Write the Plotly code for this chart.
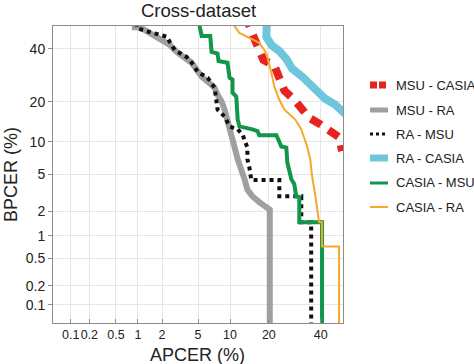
import plotly.graph_objects as go
from statistics import NormalDist

_nd = NormalDist()


def probit(vals):
    return [_nd.inv_cdf(v / 100.0) for v in vals]


tick_pct = [0.1, 0.2, 0.5, 1, 2, 5, 10, 20, 40]
tick_labels = ["0.1", "0.2", "0.5", "1", "2", "5", "10", "20", "40"]

# MSU - CASIA
msu_casia_apcer = [14.4, 14.4, 15.5, 16.9, 18.3, 21.8, 23.5, 25.3, 29.0, 31.8, 35.0, 39.3, 45.1, 48.2, 49.6]
msu_casia_bpcer = [55, 50, 45.3, 39.5, 35.4, 33.0, 27.6, 23.7, 20.7, 17.7, 15.5, 14.0, 12.1, 10.9, 8.3]

# MSU - RA
msu_ra_apcer = [0.91, 0.91, 1.06, 1.42, 1.73, 2.04, 2.47, 2.96, 3.45, 4.3, 4.84, 5.44, 6.23, 7.26, 7.73,
                8.42, 8.95, 9.5, 9.9, 10.3, 10.9, 11.6, 12.5, 13.2, 13.9, 15.2, 17.1, 19.5, 20.3, 20.3]
msu_ra_bpcer = [55, 49.5, 49.5, 46.9, 44.8, 43.9, 41.7, 38.7, 36.6, 34.2, 31.4, 28.7, 26.9, 24.7, 22.3,
                20.1, 17.7, 15.0, 13.3, 11.1, 9.1, 7.0, 5.6, 4.47, 3.5, 2.96, 2.55, 2.2, 2.1, 0.01]

# RA - MSU
ra_msu_apcer = [0.95, 0.97, 1.42, 1.88, 2.28, 2.47, 2.81, 3.8, 4.3, 4.96, 6.23, 7.26, 7.57, 7.73, 8.95,
                9.9, 11.6, 12.7, 13.9, 13.9, 14.4, 14.9, 23.5, 23.5, 31.8, 31.8, 35.9, 35.9]
ra_msu_bpcer = [55, 49, 47.3, 46, 45.3, 43, 39.5, 36.6, 34.2, 30.6, 28.3, 24.7, 20.7, 17.7, 15.8,
                13.3, 12.6, 11.5, 8.9, 7.0, 5.85, 4.4, 4.4, 2.96, 2.96, 1.48, 1.48, 0.01]

# RA - CASIA
ra_casia_apcer = [19.5, 19.5, 19.2, 20.8, 23.5, 26.0, 28.2, 32.2, 35.5, 38.5, 42.0, 46.4, 49.6, 52]
ra_casia_bpcer = [55, 50, 45.3, 41.7, 39.1, 35.8, 31.8, 28.7, 25.8, 23.0, 21.0, 19.2, 17.4, 16]

# CASIA - MSU
casia_msu_apcer = [5.19, 5.19, 5.44, 6.6, 6.8, 7.73, 7.9, 9.5, 9.9, 10.5, 10.5, 11.3, 11.6, 12.0, 15.2,
                   16.6, 17.1, 22.5, 24.2, 26.0, 26.4, 27.9, 29.0, 29.8, 31.0, 31.0, 40.6, 40.6]
casia_msu_bpcer = [55, 50, 45.6, 45.6, 38.7, 38.0, 34.9, 34.2, 28.3, 27.6, 23.0, 21.7, 15.0, 13.3, 12.6,
                   12.2, 11.3, 11.3, 9.1, 8.9, 6.5, 4.47, 4.0, 2.96, 2.9, 1.48, 1.48, 0.01]

# CASIA - RA
casia_ra_apcer = [10.5, 10.9, 12.0, 14.4, 17.1, 19.2, 20.2, 20.8, 21.8, 23.5, 25.3, 29.4, 31.8, 33.4, 34.2,
                  35.5, 36.3, 37.6, 38.5, 39.3, 40.6, 40.6, 48.2, 48.2]
casia_ra_bpcer = [55, 50, 46.9, 44.8, 42.6, 38.3, 33.4, 30.2, 25.1, 20.7, 17.7, 15.0, 12.6, 10.4, 9.1,
                  7.0, 4.8, 3.1, 2.12, 1.48, 1.48, 0.73, 0.73, 0.01]

series = [
    ("MSU - CASIA", msu_casia_apcer, msu_casia_bpcer, dict(color="#e8231f", width=8, dash="12px,9px")),
    ("MSU - RA", msu_ra_apcer, msu_ra_bpcer, dict(color="#a0a0a0", width=6)),
    ("RA - MSU", ra_msu_apcer, ra_msu_bpcer, dict(color="#111111", width=4, dash="4px,4px")),
    ("RA - CASIA", ra_casia_apcer, ra_casia_bpcer, dict(color="#6ec6dc", width=8)),
    ("CASIA - MSU", casia_msu_apcer, casia_msu_bpcer, dict(color="#12964a", width=4)),
    ("CASIA - RA", casia_ra_apcer, casia_ra_bpcer, dict(color="#f5a82c", width=2)),
]

# legend sample styles
legend_styles = [
    dict(color="#e8231f", width=7, dash="7px,2px"),
    dict(color="#a0a0a0", width=5),
    dict(color="#111111", width=3, dash="3px,3px"),
    dict(color="#6ec6dc", width=7),
    dict(color="#12964a", width=3),
    dict(color="#f5a82c", width=2),
]

fig = go.Figure()
for i, (name, xs, ys, line) in enumerate(series):
    fig.add_trace(go.Scatter(
        x=probit(xs), y=probit(ys), mode="lines", name=name, line=line, showlegend=False,
    ))

font_family = "Liberation Sans, Arial, Helvetica, sans-serif"
axis_common = dict(
    tickvals=probit(tick_pct), ticktext=tick_labels,
    range=probit([0.05, 50]),
    showgrid=True, gridcolor="#e6e6e6", gridwidth=1,
    zeroline=False, showline=True, linecolor="#8c8c8c", linewidth=1, mirror=True,
    ticklen=4, tickcolor="#8c8c8c",
    tickangle=0,
)

PW, PH = 290.0, 297.0  # plot area size in px
L, T = 53.0, 26.0       # position of plot area


def px(xp):
    return (xp - L) / PW


def py(yp):
    return (T + PH - yp) / PH


annotations = [
    dict(text="Cross-dataset", xref="paper", yref="paper", x=px(198), y=py(11),
         xanchor="center", yanchor="middle", showarrow=False, font=dict(size=18.5, color="#222222")),
    dict(text="APCER (%)", xref="paper", yref="paper", x=px(197), y=py(355),
         xanchor="center", yanchor="middle", showarrow=False, font=dict(size=18, color="#222222")),
    dict(text="BPCER (%)", xref="paper", yref="paper", x=px(11), y=py(175),
         xanchor="center", yanchor="middle", textangle=-90, showarrow=False,
         font=dict(size=18, color="#222222")),
]
shapes = []
legend_y = [85, 110, 134, 158, 183, 207]
for (name, _, _, _), st, ly in zip(series, legend_styles, legend_y):
    shapes.append(dict(type="line", xref="paper", yref="paper", x0=px(370), x1=px(388),
                       y0=py(ly), y1=py(ly), line=st))
    annotations.append(dict(text=name, xref="paper", yref="paper", x=px(394), y=py(ly),
                            xanchor="left", yanchor="middle", showarrow=False,
                            font=dict(size=13, color="#222222")))

fig.update_layout(
    width=474, height=364,
    margin=dict(l=L, r=474 - L - PW, t=T, b=364 - T - PH),
    paper_bgcolor="white", plot_bgcolor="white",
    font=dict(family=font_family, color="#222222"),
    xaxis=dict(axis_common, ticks="inside", tickfont=dict(size=12.5, color="#222222")),
    yaxis=dict(axis_common, ticks="outside", tickfont=dict(size=14, color="#222222")),
    showlegend=False,
    annotations=annotations,
    shapes=shapes,
)

fig.write_html("out.html", config={"displayModeBar": False},
               post_script="document.body.style.margin='0px';")
